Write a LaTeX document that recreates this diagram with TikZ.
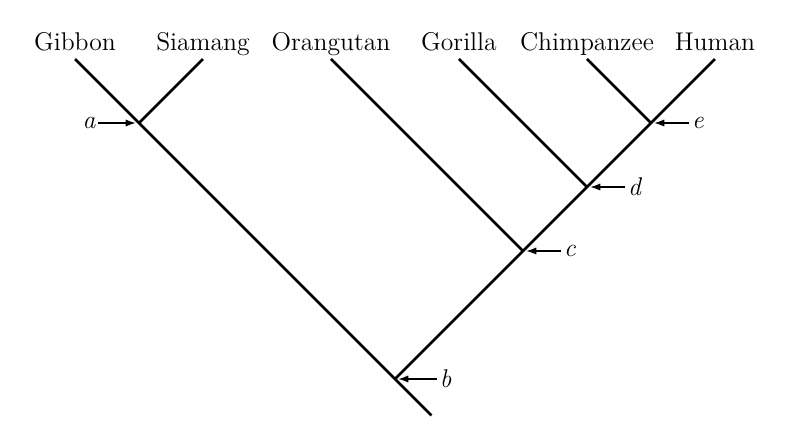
\documentclass[tikz,border=0pt]{standalone}
\usepackage{fontspec}
\usetikzlibrary{positioning,arrows.meta}
\begin{document}
\begin{tikzpicture}[font=\fontsize{11.4}{13}\selectfont,
  branch/.style={line width=1.2pt},
  pointer/.style={-{Latex[length=4.5pt,width=3.2pt]},line width=0.6pt},
  tag/.style={inner sep=1pt,font=\fontsize{11.4}{13}\selectfont\itshape}]
\useasboundingbox (-6.172,-1.016) rectangle (6.391,5.922);
% junctions of the tree
\coordinate (b) at (0,0);
\coordinate (a) at (-4,4);
\coordinate (c) at (2,2);
\coordinate (d) at (3,3);
\coordinate (e) at (4,4);
\coordinate (root) at (0.57,-0.57);
% tips
\coordinate (gib) at (-5,5);
\coordinate (sia) at (-3,5);
\coordinate (ora) at (-1,5);
\coordinate (gor) at (1,5);
\coordinate (chi) at (3,5);
\coordinate (hum) at (5,5);
\node[anchor=base] (gibbon) at (-5,5.14) {Gibbon};
\node[anchor=base] (siamang) at (-3,5.14) {Siamang};
\node[anchor=base] (orangutan) at (-1,5.14) {Orangutan};
\node[anchor=base] (gorilla) at (1,5.14) {Gorilla};
\node[anchor=base] (chimp) at (3,5.14) {Chimpanzee};
\node[anchor=base] (human) at (5,5.14) {Human};
\draw[branch] (gib)--(root);
\draw[branch] (sia)--(a);
\draw[branch] (hum)--(b);
\draw[branch] (ora)--(c);
\draw[branch] (gor)--(d);
\draw[branch] (chi)--(e);
% split labels
\node[tag,left=0.64cm of a] (la) {a};
\node[tag,right=0.66cm of b] (lb) {b};
\node[tag,right=0.6cm of c] (lc) {c};
\node[tag,right=0.6cm of d] (ld) {d};
\node[tag,right=0.6cm of e] (le) {e};
\draw[pointer] (la)--([xshift=-0.05cm]a);
\draw[pointer] (lb)--([xshift=0.05cm]b);
\draw[pointer] (lc)--([xshift=0.05cm]c);
\draw[pointer] (ld)--([xshift=0.05cm]d);
\draw[pointer] (le)--([xshift=0.05cm]e);
\end{tikzpicture}
\end{document}
